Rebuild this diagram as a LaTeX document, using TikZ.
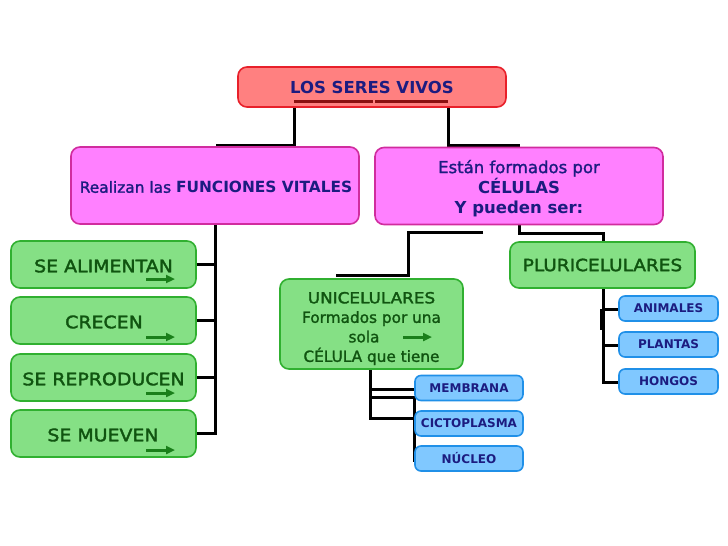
\documentclass[tikz,border=0pt]{standalone}
\usepackage{fontspec}
\setmainfont{DejaVu Sans}
\newfontfamily\widefont[FakeStretch=1.1,FakeBold=2]{DejaVu Sans}
\newfontfamily\heavyfont[FakeBold=1.5]{DejaVu Sans}
\usetikzlibrary{arrows.meta}
\definecolor{rootfill}{HTML}{FF8080}
\definecolor{rootdraw}{HTML}{E8202A}
\definecolor{pinkfill}{HTML}{FF80FF}
\definecolor{pinkdraw}{HTML}{D02C9E}
\definecolor{greenfill}{HTML}{85E085}
\definecolor{greendraw}{HTML}{30B030}
\definecolor{bluefill}{HTML}{80C8FF}
\definecolor{bluedraw}{HTML}{2090E8}
\definecolor{navy}{HTML}{1C1C80}
\definecolor{dgreen}{HTML}{105410}
\definecolor{agreen}{HTML}{1A7F1A}
\definecolor{darkred}{HTML}{8B1010}
\tikzset{
  box/.style={draw, line width=1.6pt, rounded corners=9pt, inner sep=0pt, align=center},
  rootbox/.style={box, fill=rootfill, draw=rootdraw, text=navy, font=\fontsize{16.5}{19}\selectfont\bfseries,
     minimum width=268pt, minimum height=40pt},
  pinkbox/.style={box, fill=pinkfill, draw=pinkdraw, text=navy, minimum width=288pt, minimum height=77pt},
  greenbox/.style={box, fill=greenfill, draw=greendraw, text=dgreen, font=\widefont\fontsize{16.5}{19.5}\selectfont},
  leafbox/.style={greenbox, minimum width=185pt, minimum height=47pt},
  leaftext/.style={text=dgreen, font=\widefont\fontsize{17.2}{20}\selectfont, inner sep=0pt},
  bluebox/.style={box, rounded corners=6pt, fill=bluefill, draw=bluedraw, text=navy,
     font=\fontsize{12}{14}\selectfont\bfseries, minimum height=25pt},
  conn/.style={line width=3pt, black},
  garrow/.style={line width=3pt, agreen, -{Triangle[length=9pt,width=8pt]}},
}
\begin{document}
\begin{tikzpicture}[x=1pt,y=-1pt]
\useasboundingbox (0,0) rectangle (728,546);
\fill[white] (0,0) rectangle (728,546);

% joints
\coordinate (jr1) at (294,101);
\coordinate (jr2) at (448,101);
\coordinate (jl) at (216,145);
\coordinate (jrr) at (520,145);
\coordinate (lv) at (215,224);
\coordinate (lvb) at (215,435);
\coordinate (u1) at (483,232);
\coordinate (u2) at (336,275);
\coordinate (p1) at (519,225);
\coordinate (p2) at (603,242);
\coordinate (uv) at (370,369);
\coordinate (uvb) at (415,418);
\coordinate (uv2) at (414,397);
\coordinate (uv3) at (414,462);
\coordinate (pv) at (603,288);

% connectors (drawn below boxes)
\draw[conn] (jr1) |- (jl);
\draw[conn] (jr2) |- (jrr);
\draw[conn] (lv) -- (lvb);
\draw[conn] (u1) -- (408,232) |- (u2);
\draw[conn] (p1) -- (519,233) -| (p2);
\draw[conn] (uv) |- (uvb);
\draw[conn] (370,389) -- (415,389);
\draw[conn] (370,397) -- (415,397);
\draw[conn] (uv2) -- (uv3);
\draw[conn] (pv) -- (603,382) -- (620,382);
\draw[conn] (603,309) -- (620,309);
\draw[conn] (603,345) -- (620,345);
\draw[conn] (601,309) -- (601,330);

% root
\node[rootbox] (root) at (372,87) {LOS SERES VIVOS};
\draw[line width=3pt, darkred] (jr1) -- (373,101);
\draw[line width=3pt, darkred] (375,101) -- (jr2);

% second level
\node[pinkbox] (fv) at (215,185.5) {};
\node[text=navy, inner sep=0pt, font=\fontsize{15.4}{18}\selectfont] (fvt) at (216,187)
  {{\heavyfont Realizan las} \textbf{FUNCIONES VITALES}};
\node[pinkbox] (cel) at (519,186) {};
\node[text=navy, inner sep=0pt, align=center, font=\fontsize{16.5}{20.3}\selectfont] (celt) at (519,188.5)
  {{\heavyfont Están formados por}\\\textbf{CÉLULAS}\\\textbf{Y pueden ser:}};

% green leaves
\node[leafbox] (alim) at (103.5,264.5) {};
\node[leafbox] (crec) at (103.5,320.5) {};
\node[leafbox] (repr) at (103.5,377.5) {};
\node[leafbox] (muev) at (103.5,433.5) {};
\node[leaftext] (talim) at (103.5,266) {SE ALIMENTAN};
\node[leaftext] (tcrec) at (104,322) {CRECEN};
\node[leaftext] (trepr) at (103.5,379) {SE REPRODUCEN};
\node[leaftext] (tmuev) at (103,435) {SE MUEVEN};
\coordinate (a1s) at (146,279); \coordinate (a1e) at (175,279);
\coordinate (a2s) at (146,337); \coordinate (a2e) at (175,337);
\coordinate (a3s) at (146,393); \coordinate (a3e) at (175,393);
\coordinate (a4s) at (146,450); \coordinate (a4e) at (175,450);
\draw[garrow] (a1s) -- (a1e);
\draw[garrow] (a2s) -- (a2e);
\draw[garrow] (a3s) -- (a3e);
\draw[garrow] (a4s) -- (a4e);

\draw[conn] (alim.east) -- (alim.east -| lv);
\draw[conn] (crec.east) -- (crec.east -| lv);
\draw[conn] (repr.east) -- (repr.east -| lv);
\draw[conn] (muev.east) -- (muev.east -| lv);

% unicelulares
\node[greenbox, minimum width=183pt, minimum height=90pt] (uni) at (371.5,324) {};
\node[text=dgreen, inner sep=0pt, align=center, font=\fontsize{15.3}{19.5}\selectfont\heavyfont] (unit) at (371.5,328.5)
  {{\widefont UNICELULARES}\\Formados por una\\sola\hspace{15pt}\mbox{}\\CÉLULA que tiene};
\coordinate (a5s) at (403,337); \coordinate (a5e) at (432,337);
\draw[garrow] (a5s) -- (a5e);

% pluricelulares
\node[greenbox, minimum width=185pt, minimum height=46pt, font=\widefont\fontsize{16.8}{19}\selectfont] (plu) at (602.5,265) {PLURICELULARES};

% blue leaves
\node[bluebox, minimum width=108pt] (mem) at (469,388) {MEMBRANA};
\node[bluebox, minimum width=108pt] (cit) at (469,423.5) {CICTOPLASMA};
\node[bluebox, minimum width=108pt] (nuc) at (469,458.5) {NÚCLEO};
\node[bluebox, minimum width=99pt] (ani) at (668.5,308.5) {ANIMALES};
\node[bluebox, minimum width=99pt] (pla) at (668.5,344.5) {PLANTAS};
\node[bluebox, minimum width=99pt] (hon) at (668.5,381.5) {HONGOS};
\end{tikzpicture}
\end{document}
